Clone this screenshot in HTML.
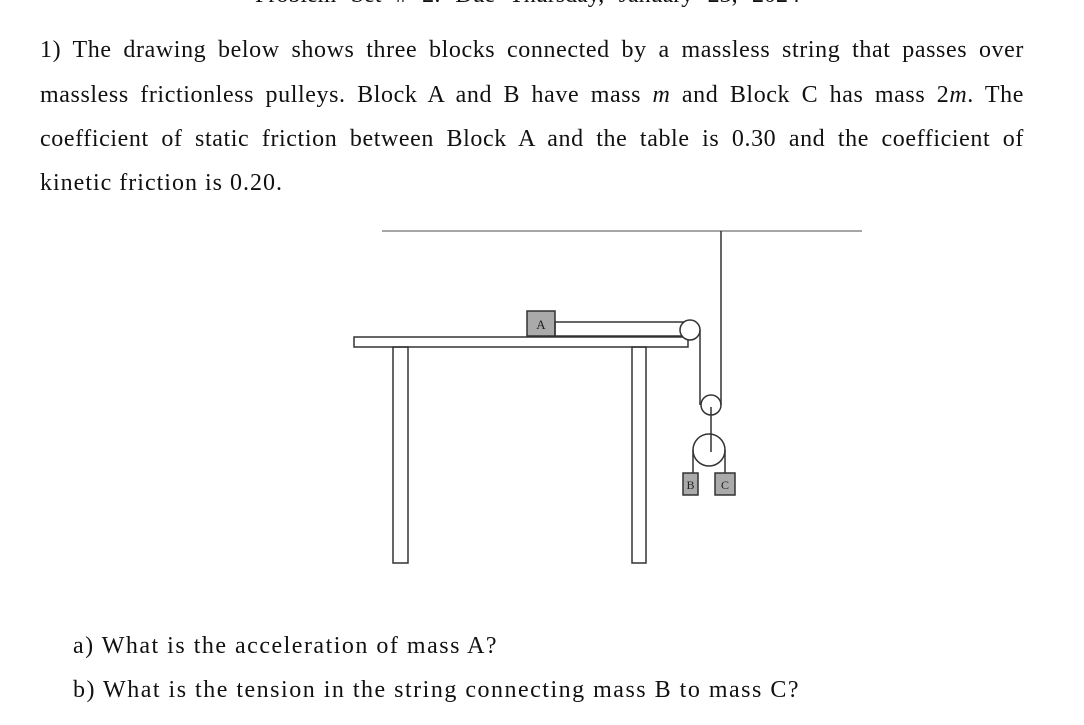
<!DOCTYPE html>
<html><head><style>
body{margin:0;width:1084px;height:725px;overflow:hidden;background:#fff;position:relative;font-family:"Liberation Serif",serif;color:#111;}
.l{position:absolute;left:40px;width:984px;font-size:24px;letter-spacing:0.6px;line-height:26px;text-align:justify;text-align-last:justify;white-space:nowrap;}
.q{position:absolute;left:73px;font-size:24px;letter-spacing:1.5px;line-height:26px;white-space:nowrap;}
</style></head><body>
<div class="q" style="left:255px;top:-18px;width:545px;text-align:justify;text-align-last:justify;letter-spacing:0;">Problem Set # 2: Due Thursday, January 23, 2024</div>
<div class="l" style="top:37px">1) The drawing below shows three blocks connected by a massless string that passes over</div>
<div class="l" style="top:82px">massless frictionless pulleys. Block A and B have mass <i>m</i> and Block C has mass 2<i>m</i>. The</div>
<div class="l" style="top:126px">coefficient of static friction between Block A and the table is 0.30 and the coefficient of</div>
<div class="q" style="left:40px;top:170px;letter-spacing:1px">kinetic friction is 0.20.</div>
<div class="q" style="top:633px">a) What is the acceleration of mass A?</div>
<div class="q" style="top:677px">b) What is the tension in the string connecting mass B to mass C?</div>
<svg width="1084" height="725" style="position:absolute;left:0;top:0" fill="none" stroke="#333" stroke-width="1.5">
<line x1="382" y1="231" x2="862" y2="231" stroke="#888"/>
<rect x="354" y="337" width="334" height="10"/>
<rect x="393" y="347" width="15" height="216"/>
<rect x="632" y="347" width="14" height="216"/>
<rect x="527" y="311" width="28" height="25" fill="#aaa"/>
<text x="541" y="329" font-family="Liberation Serif" font-size="13" fill="#222" stroke="none" text-anchor="middle">A</text>
<rect x="555" y="322" width="135" height="14"/>
<circle cx="690" cy="330" r="10" fill="#fff"/>
<line x1="700" y1="330" x2="700" y2="405"/>
<line x1="721" y1="231" x2="721" y2="405"/>
<circle cx="711" cy="405" r="10"/>
<line x1="711" y1="407" x2="711" y2="452"/>
<circle cx="709" cy="450" r="16"/>
<line x1="693" y1="450" x2="693" y2="473"/>
<line x1="725" y1="450" x2="725" y2="473"/>
<rect x="683" y="473" width="15" height="22" fill="#aaa"/>
<rect x="715" y="473" width="20" height="22" fill="#aaa"/>
<text x="690.5" y="489" font-family="Liberation Serif" font-size="12" fill="#222" stroke="none" text-anchor="middle">B</text>
<text x="725" y="489" font-family="Liberation Serif" font-size="12" fill="#222" stroke="none" text-anchor="middle">C</text>
</svg>
</body></html>
